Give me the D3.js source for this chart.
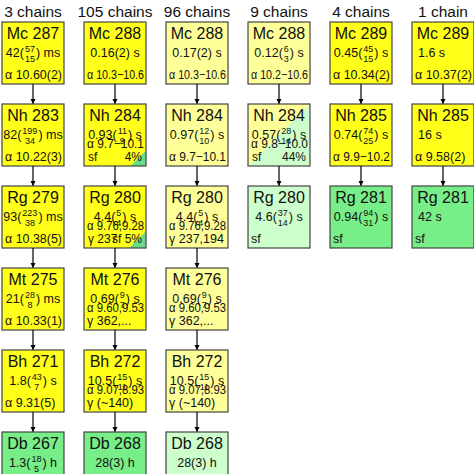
<!DOCTYPE html>
<html><head><meta charset="utf-8">
<script src="https://cdn.jsdelivr.net/npm/d3@7"></script>
<style>body{margin:0;background:#fff}text{font-family:"Liberation Sans",Arial,sans-serif;fill:#111}</style>
</head><body><svg id="c" width="474" height="474"></svg>
<script>
const columns = ["3 chains","105 chains","96 chains","9 chains","4 chains","1 chain"];
const rows = ["Mc","Nh","Rg","Mt","Bh","Db"];
const col1 = [
 {n:"Mc 287",t:["42","57","15"," ms"],d:["α 10.60(2)"],c:"Y"},
 {n:"Nh 283",t:["82","199","34"," ms"],d:["α 10.22(3)"],c:"Y"},
 {n:"Rg 279",t:["93","223","38"," ms"],d:["α 10.38(5)"],c:"Y"},
 {n:"Mt 275",t:["21","28","8"," ms"],d:["α 10.33(1)"],c:"Y"},
 {n:"Bh 271",t:["1.8","43","7"," s"],d:["α 9.31(5)"],c:"Y"},
 {n:"Db 267",t:["1.3","18","5"," h"],d:[],c:"G"}];
const col2 = [
 {n:"Mc 288",t:["0.16(2) s"],d:["α 10.3−10.6"],c:"Y"},
 {n:"Nh 284",t:["0.93","11","9"," s"],d:["α 9.7−10.1","sf|4%"],c:"Y",sf:0.25},
 {n:"Rg 280",t:["4.4","5","4"," s"],d:["α 9.76,9.28","γ 237|sf 5%"],c:"Y",sf:0.27},
 {n:"Mt 276",t:["0.69","9","7"," s"],d:["α 9.60,9.53","γ 362,..."],c:"Y"},
 {n:"Bh 272",t:["10.5","15","11"," s"],d:["α 9.07,8.93","γ (~140)"],c:"Y"},
 {n:"Db 268",t:["28(3) h"],d:[],c:"G"}];
const col3 = [
 {n:"Mc 288",t:["0.17(2) s"],d:["α 10.3−10.6"],c:"L"},
 {n:"Nh 284",t:["0.97","12","10"," s"],d:["α 9.7−10.1"],c:"L"},
 {n:"Rg 280",t:["4.4","5","4"," s"],d:["α 9.76,9.28","γ 237,194"],c:"L"},
 {n:"Mt 276",t:["0.69","9","7"," s"],d:["α 9.60,9.53","γ 362,..."],c:"L"},
 {n:"Bh 272",t:["10.5","15","11"," s"],d:["α 9.07,8.93","γ (~140)"],c:"L"},
 {n:"Db 268",t:["28(3) h"],d:[],c:"P"}];
const col4 = [
 {n:"Mc 288",t:["0.12","6","3"," s"],d:["α 10.2−10.6"],c:"L"},
 {n:"Nh 284",t:["0.57","28","14"," s"],d:["α 9.8−10.0","sf|44%"],c:"L",sf:1.0},
 {n:"Rg 280",t:["4.6","37","14"," s"],d:["sf"],c:"P"}];
const col5 = [
 {n:"Mc 289",t:["0.45","45","15"," s"],d:["α 10.34(2)"],c:"Y"},
 {n:"Nh 285",t:["0.74","74","25"," s"],d:["α 9.9−10.2"],c:"Y"},
 {n:"Rg 281",t:["0.94","94","31"," s"],d:["sf"],c:"G"}];
const col6 = [
 {n:"Mc 289",t:["1.6 s"],d:["α 10.37(2)"],c:"Y"},
 {n:"Nh 285",t:["16 s"],d:["α 9.58(2)"],c:"Y"},
 {n:"Rg 281",t:["42 s"],d:["sf"],c:"G"}];
const chains=[col1,col2,col3,col4,col5,col6];
const fills={Y:"#ffff1a",L:"#ffff99",G:"#77ee88",P:"#ccffcc"};

const svg=d3.select("#c");
const x=d3.scaleBand().domain(columns).range([2,474]).paddingInner(20/82).paddingOuter(0);
const y=d3.scaleBand().domain(rows).range([22,494]).paddingInner(20/82).paddingOuter(0);
const W=x.bandwidth(),H=y.bandwidth();
svg.append("defs").append("marker").attr("id","ah").attr("viewBox","0 0 10 10").attr("refX",10).attr("refY",5)
 .attr("markerWidth",5).attr("markerHeight",6).attr("markerUnits","userSpaceOnUse")
 .attr("orient","auto").append("path").attr("d","M0,0L10,5L0,10Z").attr("fill","#000");

svg.selectAll(".hd").data(columns).join("text").attr("x",d=>x(d)+W/2).attr("y",17)
 .attr("text-anchor","middle").attr("font-size",15.5).text(d=>d);

function fit(t,max){const w=t.node().getComputedTextLength(); if(w>max) t.attr("textLength",max).attr("lengthAdjust","spacingAndGlyphs");}

chains.forEach((ch,ci)=>{
 const x0=x(columns[ci]);
 ch.forEach((nu,ri)=>{
  const y0=y(rows[ri]);
  const g=svg.append("g").attr("transform",`translate(${x0},${y0})`);
  g.append("rect").attr("width",W).attr("height",H).attr("fill",fills[nu.c]);
  if(nu.sf){const s=nu.sf;
   g.append("path").attr("d",`M${W},${H}L${W},${H-H*s}L${W-W*s},${H}Z`).attr("fill",s>0.5?"#ccffcc":"#66dd88");}
  g.append("rect").attr("width",W).attr("height",H).attr("fill","none").attr("stroke","#444").attr("stroke-width",1.2);
  fit(g.append("text").attr("x",W/2).attr("y",17).attr("text-anchor","middle").attr("font-size",16).text(nu.n),W-4);
  if(nu.t.length===1){
   const left=ci===5;
   g.append("text").attr("x",left?6:W/2).attr("y",35).attr("text-anchor",left?"start":"middle").attr("font-size",12.5).text(nu.t[0]);
  } else {
   const a=g.append("text").attr("y",35).attr("font-size",12.5).text(nu.t[0]+"(");
   const n1=g.append("text").attr("y",30).attr("font-size",9).attr("text-anchor","middle").text(nu.t[1]);
   const n2=g.append("text").attr("y",40).attr("font-size",9).attr("text-anchor","middle").text(nu.t[2]);
   const b=g.append("text").attr("y",35).attr("font-size",12.5).text(")"+nu.t[3]);
   const wa=a.node().getComputedTextLength(), wb=b.node().getComputedTextLength();
   const fw=Math.max(n1.node().getComputedTextLength(),n2.node().getComputedTextLength())+2;
   const sx=W/2-(wa+fw+wb)/2;
   a.attr("x",sx); n1.attr("x",sx+wa+fw/2); n2.attr("x",sx+wa+fw/2); b.attr("x",sx+wa+fw);
  }
  const n=nu.d.length;
  nu.d.forEach((s,k)=>{
   const yy=H-5-(n-1-k)*13;
   if(s.includes("|")){const [a,b]=s.split("|");
    g.append("text").attr("x",4).attr("y",yy).attr("font-size",12).text(a);
    g.append("text").attr("x",W-4).attr("y",yy).attr("text-anchor","end").attr("font-size",12).text(b);}
   else fit(g.append("text").attr("x",3).attr("y",yy).attr("font-size",12.5).text(s),W-5);
  });
  if(ri<ch.length-1){
   g.append("line").attr("x1",W/2).attr("x2",W/2).attr("y1",H).attr("y2",y(rows[ri+1])-y0)
    .attr("stroke","#000").attr("stroke-width",1.2).attr("marker-end","url(#ah)");
  }
 });
});
</script></body></html>
